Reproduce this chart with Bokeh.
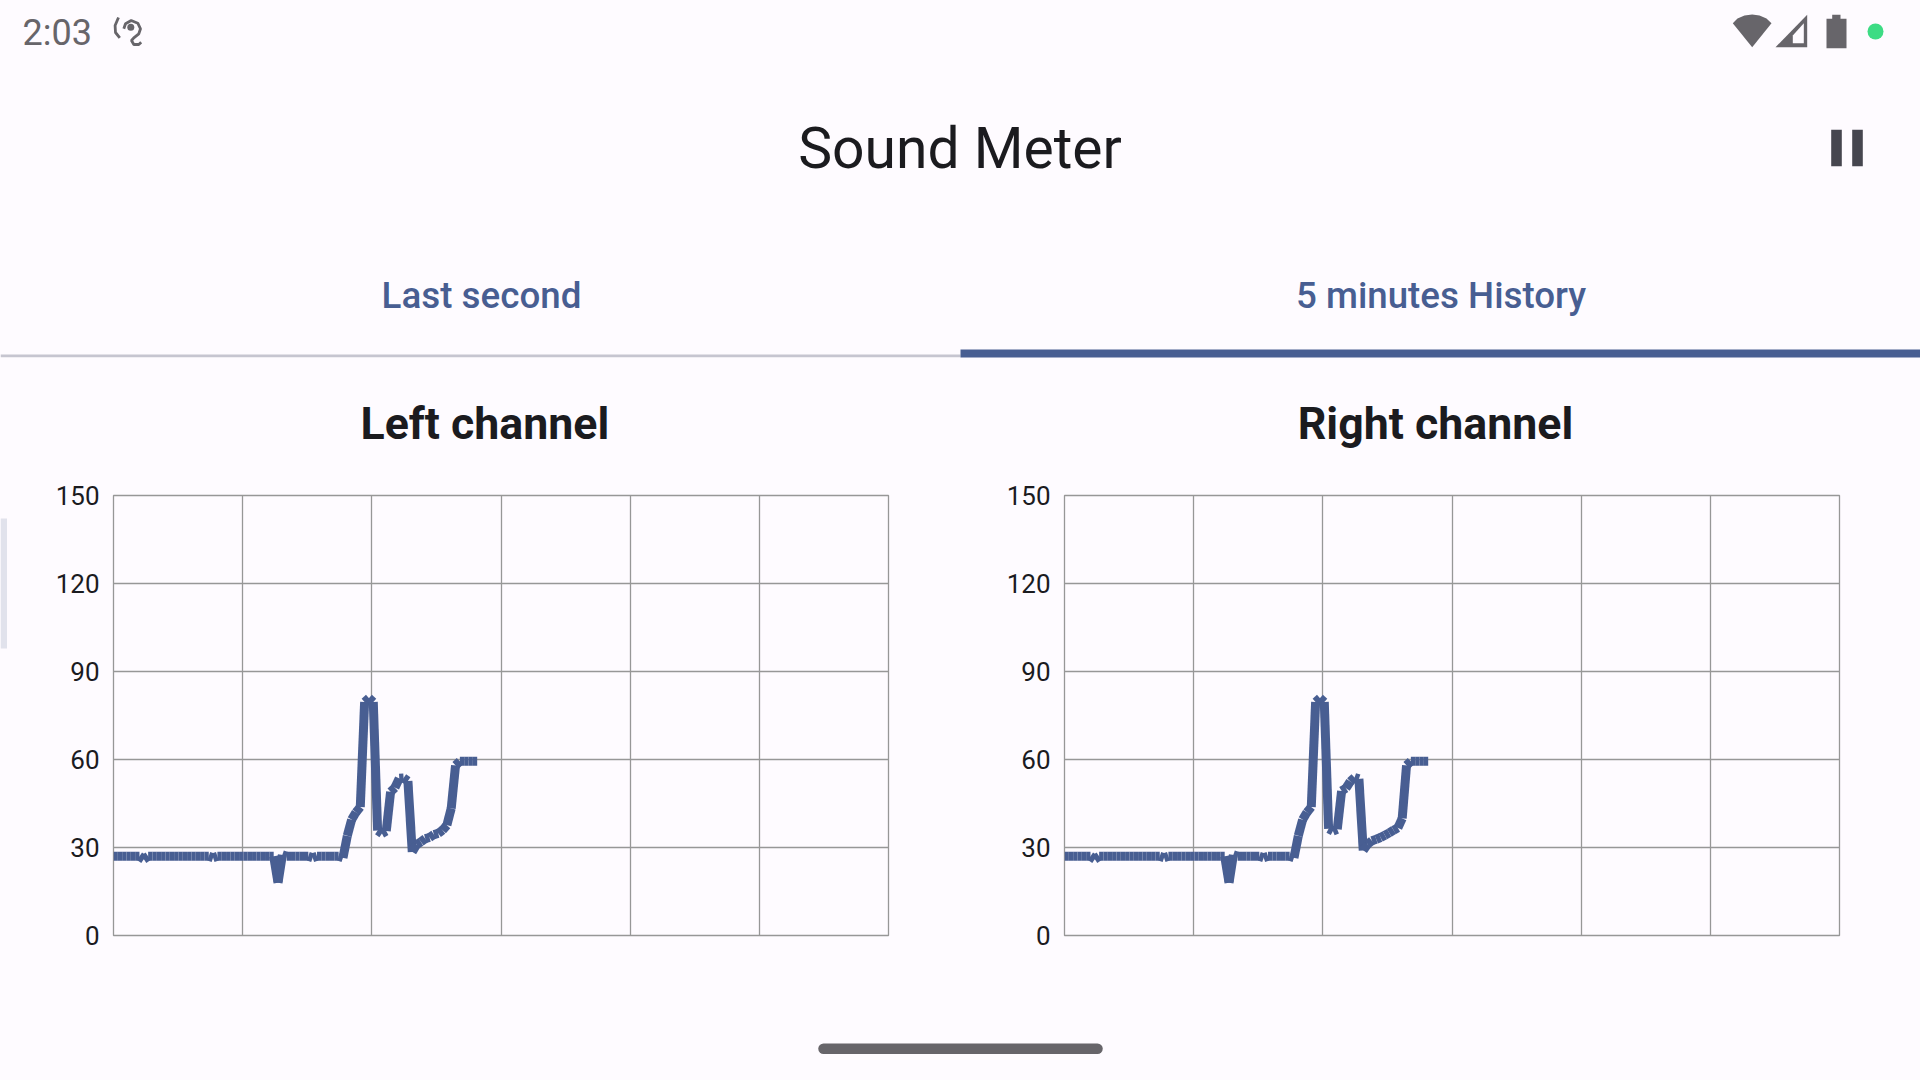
from bokeh.plotting import figure
from bokeh.layouts import column, row
from bokeh.models import FixedTicker, Range1d, GlobalInlineStyleSheet
from bokeh.core.properties import value
from bokeh.embed import file_html
from bokeh.resources import INLINE

BG = "#FEFBFF"
BLUE = "#485E92"
INK = "#1B1B1F"
GREY = "#67656A"

clock_text = "2:03"
app_title = "Sound Meter"
tab_labels = ["Last second", "5 minutes History"]
channel_titles = ["Left channel", "Right channel"]
y_ticks = [0, 30, 60, 90, 120, 150]
x_divisions = [0, 29.83, 59.67, 89.5, 119.33, 149.17, 179]

left_values = [
    27, 27, 27, 27, 27, 27, 27, 26, 27, 27, 27, 27, 27, 27, 27, 27, 27, 27, 27, 27, 27, 27, 27, 26.5,
    27, 27, 27, 27, 27, 27, 27, 27, 27, 27, 27, 27, 27, 27, 18, 27.5, 27, 27, 27, 27, 27, 27, 26.5,
    27, 27, 27, 27, 27, 27, 26.5, 34, 39.5, 42, 43.8, 79.6, 80.9, 79.6, 35.8, 34.8, 35.6,
    49, 50.4, 53.6, 53.7, 52.7, 28.5, 31, 31.9, 33, 33.4, 34.4, 34.8, 35.9, 37.6, 43.3, 58,
    59.4, 59.4, 59.4, 59.4, 59.4,
]
right_values = [
    27, 27, 27, 27, 27, 27, 27, 26, 27, 27, 27, 27, 27, 27, 27, 27, 27, 27, 27, 27, 27, 27, 27, 26.5,
    27, 27, 27, 27, 27, 27, 27, 27, 27, 27, 27, 27, 27, 27, 18, 27.5, 27, 27, 27, 27, 27, 27, 26.5,
    27, 27, 27, 27, 27, 27, 26.5, 34, 39.5, 42, 43.8, 79.6, 80.9, 79.6, 36.4, 35.6, 36.2,
    49.3, 50.2, 52.5, 53.9, 53.4, 29, 31.1, 32.3, 32.8, 33.4, 34.2, 35, 35.9, 36.7, 39.9, 58,
    59.4, 59.4, 59.4, 59.4, 59.4,
]


def chart(values, width, left, right):
    f = figure(width=width, height=520, output_backend="svg", toolbar_location=None,
               x_range=Range1d(0, 179), y_range=Range1d(0, 150),
               min_border_left=left, min_border_right=right,
               min_border_top=40, min_border_bottom=40,
               background_fill_color=BG, border_fill_color=BG,
               outline_line_color="#979797", outline_line_width=1.3)
    f.xaxis.visible = False
    ax = f.yaxis[0]
    ax.ticker = FixedTicker(ticks=y_ticks)
    ax.axis_line_color = None
    ax.major_tick_line_color = None
    ax.major_tick_out = 0
    ax.major_tick_in = 0
    ax.minor_tick_line_color = None
    ax.major_label_standoff = 14
    ax.major_label_text_font = "Roboto"
    ax.major_label_text_font_size = "26px"
    ax.major_label_text_color = INK
    f.xgrid.ticker = FixedTicker(ticks=x_divisions)
    f.ygrid.ticker = FixedTicker(ticks=y_ticks)
    for g in (f.xgrid[0], f.ygrid[0]):
        g.grid_line_color = "#979797"
        g.grid_line_width = 1.3
    xs = list(range(len(values)))
    f.segment(xs[:-1], values[:-1], xs[1:], values[1:], line_color=BLUE, line_width=9,
              line_cap="butt")
    return f


header = figure(width=1920, height=455, output_backend="svg", toolbar_location=None,
                x_range=Range1d(0, 1920), y_range=Range1d(455, 0),
                min_border=0, background_fill_color=BG, border_fill_color=BG,
                outline_line_color=None)
header.axis.visible = False
header.grid.visible = False
header.stylesheets = [GlobalInlineStyleSheet(css="body{background:%s;}" % BG)]

header.text([22], [32.5], [clock_text], text_font=value("Roboto"), text_font_size="36px",
            text_color=GREY, text_baseline="alphabetic")
header.text([959.5], [148], [app_title], text_font=value("Roboto"), text_font_size="57px",
            text_color=INK, text_align="center", text_baseline="alphabetic")
header.text([481], [295.4], [tab_labels[0]], text_font=value("Roboto Medium"), text_font_size="36.7px",
            text_color=BLUE, text_align="center", text_baseline="alphabetic")
header.text([1440.6], [295.4], [tab_labels[1]], text_font=value("Roboto Medium"), text_font_size="36.7px",
            text_color=BLUE, text_align="center", text_baseline="alphabetic")
header.text([484.4, 1435], [423.5, 423.5], channel_titles, text_font=value("Roboto"),
            text_font_size="44.7px", text_font_style="bold", text_color=INK,
            text_align="center", text_baseline="alphabetic")

# ear icon
header.line([118, 114.6, 115, 119.3], [17, 25, 32, 37.3], line_color=GREY, line_width=2.8)
header.line([123.3, 125, 130.7, 137.3, 140, 138.3, 133.3, 131, 133.3, 138.3, 140.7],
            [28.3, 23.3, 20, 22.7, 28.3, 33.3, 37.3, 40, 44, 44, 41.7],
            line_color=GREY, line_width=2.8)
header.scatter([130.3], [26.7], size=7, marker="circle", fill_color=GREY, line_color=None)

# wifi
header.patch([1751.7, 1732.3, 1737, 1744, 1751.7, 1759, 1766, 1771],
             [46.7, 22.7, 18, 15, 14, 15, 18, 22.7], fill_color=GREY, line_color=None)
# signal
header.patch([1775, 1806.7, 1806.7], [46.7, 46.7, 14.3], fill_color=GREY, line_color=None)
header.patch([1792.3, 1803.3, 1803.3, 1792.3], [35, 22.7, 42.7, 42.7], fill_color=BG, line_color=None)
# battery
header.quad(left=[1826], right=[1846], top=[18.3], bottom=[47.7], fill_color=GREY, line_color=None)
header.quad(left=[1831.7], right=[1840], top=[14.3], bottom=[18.5], fill_color=GREY, line_color=None)
# privacy dot
header.scatter([1875], [31], size=16, marker="circle", fill_color="#3DDC84", line_color=None)
# pause
header.quad(left=[1830.7, 1851.7], right=[1841.3, 1862.3], top=[129.3, 129.3], bottom=[165.7, 165.7],
            fill_color="#46464F", line_color=None)
# tab lines
header.quad(left=[0], right=[960], top=[354], bottom=[356.7], fill_color="#C6C5D0", line_color=None)
header.quad(left=[960], right=[1920], top=[349], bottom=[357], fill_color=BLUE, line_color=None)

# pale drawer handle on the left edge of the screen
handle = figure(width=7, height=520, output_backend="svg", toolbar_location=None,
                x_range=Range1d(0, 7), y_range=Range1d(935, 495),
                min_border=0, background_fill_color=BG, border_fill_color=BG,
                outline_line_color=None)
handle.axis.visible = False
handle.grid.visible = False
handle.quad(left=[0], right=[7], top=[518], bottom=[648], fill_color="#E1E2EC", line_color=None)

left_chart = chart(left_values, 953, 106, 72)
right_chart = chart(right_values, 960, 104, 81)

footer = figure(width=1920, height=105, output_backend="svg", toolbar_location=None,
                x_range=Range1d(0, 1920), y_range=Range1d(1080, 975),
                min_border=0, background_fill_color=BG, border_fill_color=BG,
                outline_line_color=None)
footer.axis.visible = False
footer.grid.visible = False
footer.line([823, 1097], [1048.3, 1048.3], line_color=GREY, line_width=10.5, line_cap="round")

p = column(header, row(handle, left_chart, right_chart, spacing=0), footer, spacing=0)
open("out.html", "w").write(file_html(p, INLINE))
